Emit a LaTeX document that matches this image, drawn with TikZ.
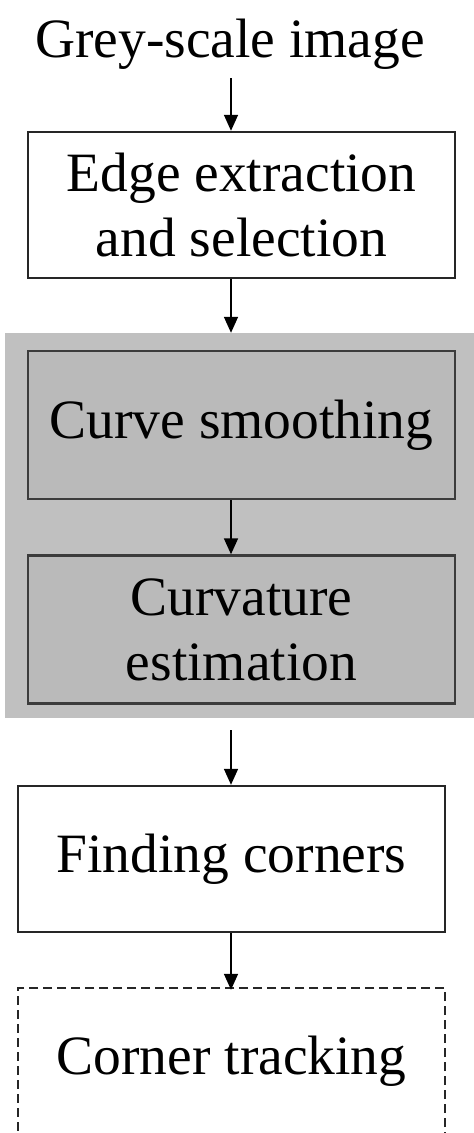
\documentclass[tikz,border=0pt]{standalone}
\usepackage{fontspec}
\setmainfont{Liberation Serif}
\usetikzlibrary{arrows.meta}
\definecolor{panelgrey}{RGB}{192,192,192}
\definecolor{boxgrey}{RGB}{186,186,186}
\definecolor{edgegrey}{RGB}{60,60,60}
\begin{document}
\begin{tikzpicture}[x=1pt,y=-1pt,
  every node/.style={font=\fontsize{55.5}{65}\selectfont, align=center, inner sep=0pt},
  stepbox/.style={draw=black!85, line width=2.4pt, fill=white, minimum width=427pt, minimum height=146pt},
  greybox/.style={draw=edgegrey, line width=2.4pt, fill=boxgrey, minimum width=427pt, minimum height=148pt},
  panel/.style={fill=panelgrey, draw=none, minimum width=475pt, minimum height=385pt},
  flow/.style={-{Triangle[length=16pt,width=14pt]}, line width=1.6pt, black}
]
\useasboundingbox (0,0) rectangle (474,1133);
\clip (0,0) rectangle (474,1133);
\fill[white] (0,0) rectangle (474,1133);
\node (gs) at (230,44) {Grey-scale image};
\coordinate (gsb) at (231,78);
\node[stepbox] (e1) at (241.5,205) {Edge extraction\\and selection};
\node[panel] (grp) at (242.5,525.5) {};
\node[greybox] (cs) at (241.5,425) {Curve smoothing};
\node[greybox] (ce) at (241.5,629.5) {Curvature\\estimation};
\coordinate (grpb) at (231,730);
\node[stepbox] (fc) at (231.5,859) {Finding corners};
\node[stepbox, dashed, dash pattern=on 9pt off 5pt, minimum height=146pt] (ct) at (231.5,1061) {Corner tracking};
\draw[flow] (gsb) -- (gsb |- e1.north);
\draw[flow] (gsb |- e1.south) -- (gsb |- grp.north);
\draw[flow] (gsb |- cs.south) -- (gsb |- ce.north);
\draw[flow] (grpb) -- (grpb |- fc.north);
\draw[flow] (grpb |- fc.south) -- ([yshift=-3pt]grpb |- ct.north);
\end{tikzpicture}
\end{document}
